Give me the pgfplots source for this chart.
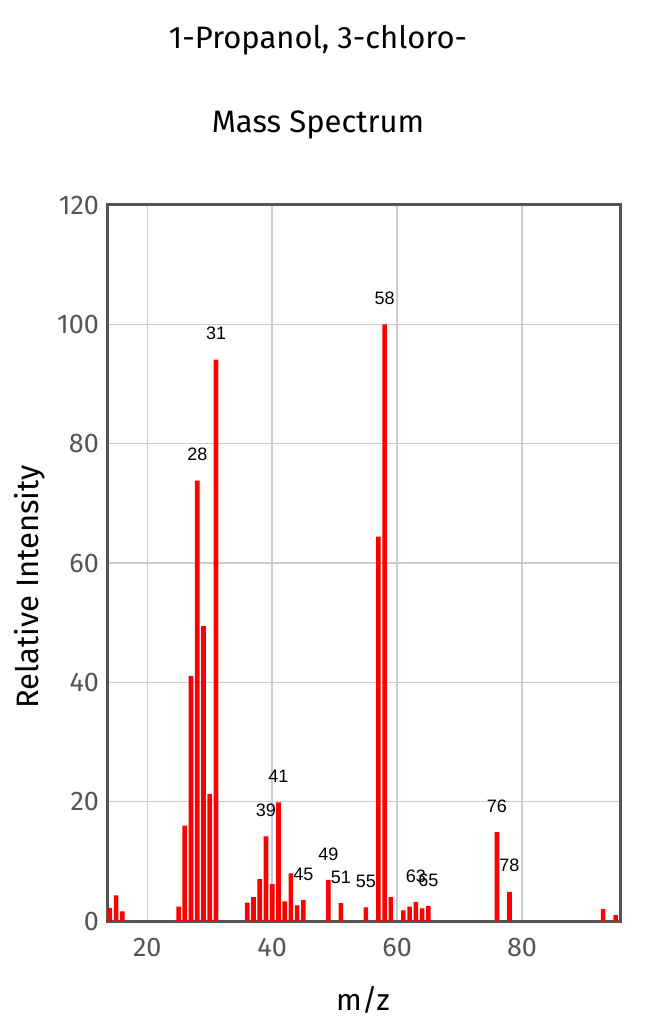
\documentclass[border=0pt]{standalone}
\usepackage{fontspec}
\setmainfont{Fira Sans}
\newfontfamily\labelfont{Liberation Sans}
\usepackage{pgfplots}
\pgfplotsset{compat=1.18}
\definecolor{framegray}{HTML}{555555}
\definecolor{gridgray}{HTML}{CCCCCC}
\definecolor{tickgray}{HTML}{555555}
\begin{document}
\begin{tikzpicture}
\path[use as bounding box] (-54pt,-51.5pt) rectangle (268pt,460.5pt);
\begin{axis}[
  scale only axis, width=256pt, height=358pt,
  xmin=13.7, xmax=95.7, ymin=0, ymax=120,
  xtick={20,40,60,80}, ytick={0,20,40,60,80,100,120},
  grid=major, grid style={gridgray, line width=0.75pt},
  axis line style={framegray, line width=1.5pt},
  major tick length=0pt,
  /pgf/number format/assume math mode=true,
  ticklabel style={font=\fontsize{13.5}{16}\selectfont, text=tickgray},
  xticklabel style={yshift=-5pt},
  yticklabel style={xshift=-1pt},
  ybar, bar width=2.3pt,
  clip=false,
]
\addplot[fill=red, draw=none] coordinates {
(14,2.2) (15,4.3) (16,1.6) (25,2.4) (26,16.0) (27,41.1) (28,73.8) (29,49.4)
(30,21.3) (31,94.1) (36,3.1) (37,4.0) (38,7.0) (39,14.2) (40,6.2) (41,19.9)
(42,3.3) (43,8.0) (44,2.6) (45,3.5) (49,6.9) (51,3.0) (55,2.3) (57,64.4)
(58,100) (59,4.0) (61,1.8) (62,2.4) (63,3.2) (64,2.1) (65,2.5) (76,14.9)
(78,4.9) (93,2.0) (95,1.0)
};
\begin{scope}[every node/.style={font=\labelfont\fontsize{9}{10}\selectfont, yshift=13pt}]
\node at (axis cs:28,73.8) {28};
\node at (axis cs:31,94.1) {31};
\node at (axis cs:39,14.2) {39};
\node at (axis cs:41,19.9) {41};
\node at (axis cs:45,3.5) {45};
\node at (axis cs:49,6.9) {49};
\node at (axis cs:51,3.0) {51};
\node at (axis cs:55,2.3) {55};
\node at (axis cs:58,100) {58};
\node at (axis cs:63,3.2) {63};
\node at (axis cs:65,2.5) {65};
\node at (axis cs:76,14.9) {76};
\node at (axis cs:78,4.9) {78};
\end{scope}
\end{axis}
\node[font=\fontsize{15.5}{18}\selectfont] at (105pt,440.5pt) {1-Propanol, 3-chloro-};
\node[font=\fontsize{15.5}{18}\selectfont] at (105pt,398pt) {Mass Spectrum};
\node[font=\fontsize{15}{18}\selectfont] at (127.5pt,-39.5pt) {m/z};
\node[font=\fontsize{15.5}{18}\selectfont, rotate=90] at (-39pt,167pt) {Relative Intensity};
\end{tikzpicture}
\end{document}
